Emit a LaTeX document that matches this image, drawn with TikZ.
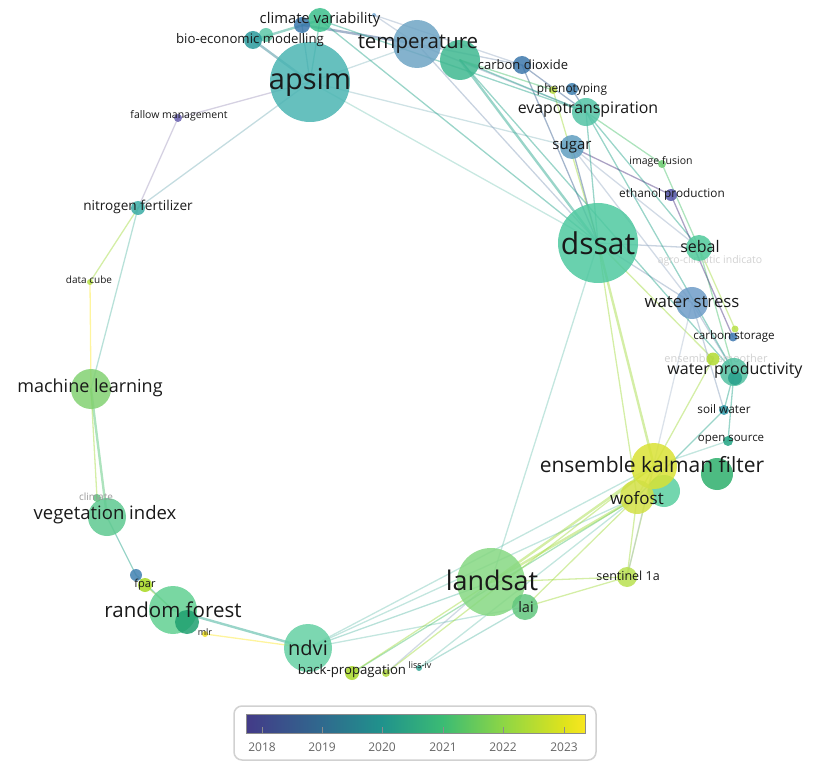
\documentclass[tikz,border=0pt]{standalone}
\usepackage{fontspec}
\setmainfont{Open Sans}
\definecolor{vA}{HTML}{46327E}
\definecolor{vB}{HTML}{365C8D}
\definecolor{vC}{HTML}{277F8E}
\definecolor{vD}{HTML}{1FA187}
\definecolor{vE}{HTML}{4AC16D}
\definecolor{vF}{HTML}{A0DA39}
\definecolor{vG}{HTML}{FDE725}
\definecolor{s0}{HTML}{433A88}
\definecolor{s1}{HTML}{30698E}
\definecolor{s2}{HTML}{20928C}
\definecolor{s3}{HTML}{3BBB74}
\definecolor{s4}{HTML}{8ED645}
\definecolor{s5}{HTML}{E0E31C}
\definecolor{s6}{HTML}{F8E620}
\pgfdeclarehorizontalshading{viridis}{100bp}{color(0bp)=(s0); color(25bp)=(s0); color(36bp)=(s1); color(45bp)=(s2); color(54bp)=(s3); color(63bp)=(s4); color(72bp)=(s5); color(75bp)=(s6); color(100bp)=(s6)}
\tikzset{
  ed/.style={line width=1.3pt, draw opacity=0.45, line cap=round},
  edt/.style={line width=2.4pt, draw opacity=0.45, line cap=round},
  bub/.style={circle, inner sep=0pt, fill opacity=0.85, draw=none},
  lab/.style={font=\fontsize{#1}{#1}\selectfont, text=black!90, inner sep=0pt},
  flab/.style={font=\fontsize{#1}{#1}\selectfont, text=black!18, inner sep=0pt},
}
\begin{document}
\begin{tikzpicture}[x=1pt,y=-1pt]
\useasboundingbox (0,0) rectangle (827,767);
% coordinates
\coordinate (apsim) at (310,82);
\coordinate (temp) at (417,44);
\coordinate (gtemp) at (460,60);
\coordinate (climvar) at (320,20);
\coordinate (climvarb) at (302,25);
\coordinate (bioecon) at (253,40);
\coordinate (bioeconb) at (266,35);
\coordinate (topdot) at (374,15);
\coordinate (co2) at (522,65);
\coordinate (pheno) at (572,89);
\coordinate (phenoy) at (553,90);
\coordinate (evap) at (586,112);
\coordinate (sugar) at (572,147);
\coordinate (imfus) at (662,164);
\coordinate (ethanol) at (671,195);
\coordinate (dssat) at (598,243);
\coordinate (sebal) at (699,248);
\coordinate (agro) at (712,261);
\coordinate (wstress) at (692,303);
\coordinate (cstor) at (733,337);
\coordinate (cstory) at (735,329);
\coordinate (ensm) at (713,359);
\coordinate (wprod) at (734,372);
\coordinate (soilw) at (724,410);
\coordinate (opens) at (728,441);
\coordinate (ekf) at (654,466);
\coordinate (dgreen) at (717,474);
\coordinate (tealw) at (664,491);
\coordinate (wofost) at (637,497);
\coordinate (sent) at (627,577);
\coordinate (landsat) at (491,582);
\coordinate (lai) at (525,607);
\coordinate (ndvi) at (308,648);
\coordinate (bprop) at (352,673);
\coordinate (bprop2) at (386,673);
\coordinate (liss) at (419,668);
\coordinate (rf) at (173,610);
\coordinate (rfin) at (187,622);
\coordinate (mlr) at (205,634);
\coordinate (fparb) at (136,575);
\coordinate (fpar) at (145,585);
\coordinate (vegi) at (107,517);
\coordinate (clim) at (97,498);
\coordinate (ml) at (91,389);
\coordinate (dcube) at (90,282);
\coordinate (nitro) at (138,208);
\coordinate (fallow) at (178,118);
% edges
\draw[ed, color=vC!60] (apsim) -- (nitro);
\draw[ed, color=vD!55] (apsim) -- (dssat);
\draw[ed, color=vC!50] (apsim) -- (temp);
\draw[ed, color=vC!50] (apsim) -- (sugar);
\draw[ed, color=vA!50] (apsim) -- (fallow);
\draw[edt, color=vC] (apsim) -- (bioecon);
\draw[ed, color=vD] (apsim) -- (climvar);
\draw[ed, color=vC] (apsim) -- (climvarb);
\draw[ed, color=vA!50] (fallow) -- (nitro);
\draw[ed, color=vF] (dcube) -- (nitro);
\draw[ed, color=vD!70] (nitro) -- (ml);
\draw[ed, color=vG] (dcube) -- (ml);
\draw[edt, color=vE] (ml) -- (vegi);
\draw[ed, color=vF] (ml) -- (clim);
\draw[ed, color=vD] (vegi) -- (fparb);
\draw[ed, color=vD] (fparb) -- (rf);
\draw[ed, color=vF] (fpar) -- (rf);
\draw[edt, color=vD] (rf) -- (ndvi);
\draw[ed, color=vG] (mlr) -- (ndvi);
\draw[ed, color=vD!70] (ndvi) -- (landsat);
\draw[ed, color=vD!60] (ndvi) -- (wofost);
\draw[ed, color=vD!60] (ndvi) -- (ekf);
\draw[ed, color=vD!60] (ndvi) -- (lai);
\draw[ed, color=vE] (bprop) -- (wofost);
\draw[ed, color=vF] (bprop) -- (landsat);
\draw[ed, color=vB!50] (bprop2) -- (landsat);
\draw[ed, color=vF] (bprop2) -- (ekf);
\draw[ed, color=vD!70] (liss) -- (lai);
\draw[ed, color=vD!60] (liss) -- (wofost);
\draw[ed, color=vD!60] (landsat) -- (dssat);
\draw[edt, color=vF] (landsat) -- (wofost);
\draw[edt, color=vF] (landsat) -- (ekf);
\draw[ed, color=vF] (lai) -- (wofost);
\draw[ed, color=vF] (lai) -- (sent);
\draw[ed, color=vF] (landsat) -- (sent);
\draw[ed, color=vF] (wofost) -- (sent);
\draw[ed, color=vF] (ekf) -- (sent);
\draw[edt, color=vF] (dssat) -- (ekf);
\draw[ed, color=vF] (dssat) -- (wofost);
\draw[ed, color=vB!60] (dssat) -- (wstress);
\draw[ed, color=vB!60] (dssat) -- (sebal);
\draw[ed, color=vF] (dssat) -- (ensm);
\draw[ed, color=vF] (ensm) -- (wofost);
\draw[ed, color=vD] (soilw) -- (wofost);
\draw[ed, color=vD] (soilw) -- (wprod);
\draw[ed, color=vB!60] (wstress) -- (soilw);
\draw[ed, color=vB!40] (wstress) -- (sent);
\draw[ed, color=vB!60] (wstress) -- (wprod);
\draw[ed, color=vD] (opens) -- (wprod);
\draw[ed, color=vD!60] (opens) -- (ekf);
\draw[ed, color=vE] (sebal) -- (wprod);
\draw[ed, color=vF] (sebal) -- (cstory);
\draw[ed, color=vE] (sebal) -- (imfus);
\draw[ed, color=vE] (evap) -- (imfus);
\draw[ed, color=vD] (evap) -- (sebal);
\draw[ed, color=vD] (evap) -- (wprod);
\draw[ed, color=vA] (sugar) -- (ethanol);
\draw[ed, color=vA] (ethanol) -- (cstor);
\draw[ed, color=vB!50] (sugar) -- (wstress);
\draw[ed, color=vB!50] (sugar) -- (sebal);
\draw[ed, color=vB] (co2) -- (dssat);
\draw[ed, color=vB!60] (co2) -- (temp);
\draw[ed, color=vB] (co2) -- (evap);
\draw[ed, color=vF] (phenoy) -- (dssat);
\draw[ed, color=vB] (pheno) -- (evap);
\draw[ed, color=vD] (evap) -- (dssat);
\draw[ed, color=vB] (sugar) -- (dssat);
\draw[ed, color=vB!60] (temp) -- (dssat);
\draw[ed, color=vB!60] (temp) -- (evap);
\draw[edt, color=vD] (gtemp) -- (dssat);
\draw[ed, color=vD] (gtemp) -- (evap);
\draw[ed, color=vD] (gtemp) -- (wprod);
\draw[ed, color=vE] (gtemp) -- (phenoy);
\draw[edt, color=vB] (climvarb) -- (temp);
\draw[ed, color=vD] (climvar) -- (dssat);
\draw[ed, color=vD] (climvar) -- (evap);
\draw[edt, color=vD] (bioecon) -- (climvar);
\draw[ed, color=vB!50] (topdot) -- (temp);
\draw[ed, color=vB!50] (topdot) -- (co2);
% faint labels, behind the bubbles
\node[flab=10.5] (lagro) at (710,261) {agro-climatic indicato};
\node[flab=11] (lensm) at (716,358) {ensemble smoother};
% bubbles
\node[bub, fill={rgb,255:red,75;green,181;blue,179}, minimum size=80pt] (napsim) at (apsim) {};
\node[bub, fill={rgb,255:red,111;green,165;blue,196}, minimum size=48pt] (ntemp) at (temp) {};
\node[bub, fill={rgb,255:red,63;green,184;blue,144}, minimum size=40pt] (ngtemp) at (gtemp) {};
\node[bub, fill={rgb,255:red,60;green,192;blue,140}, minimum size=24pt] (nclimvar) at (climvar) {};
\node[bub, fill={rgb,255:red,59;green,120;blue,173}, minimum size=16pt] (nclimvarb) at (climvarb) {};
\node[bub, fill={rgb,255:red,93;green,200;blue,168}, minimum size=14pt] (nbioeconb) at (bioeconb) {};
\node[bub, fill={rgb,255:red,42;green,154;blue,156}, minimum size=18pt] (nbioecon) at (bioecon) {};
\node[bub, fill={rgb,255:red,127;green,176;blue,216}, minimum size=4pt] (ntopdot) at (topdot) {};
\node[bub, fill={rgb,255:red,61;green,120;blue,172}, minimum size=18pt] (nco2) at (co2) {};
\node[bub, fill={rgb,255:red,184;green,216;blue,64}, minimum size=8pt] (nphenoy) at (phenoy) {};
\node[bub, fill={rgb,255:red,64;green,128;blue,176}, minimum size=12pt] (npheno) at (pheno) {};
\node[bub, fill={rgb,255:red,82;green,195;blue,165}, minimum size=28pt] (nevap) at (evap) {};
\node[bub, fill={rgb,255:red,95;green,158;blue,192}, minimum size=24pt] (nsugar) at (sugar) {};
\node[bub, fill={rgb,255:red,108;green,203;blue,112}, minimum size=8pt] (nimfus) at (imfus) {};
\node[bub, fill={rgb,255:red,84;green,85;blue,168}, minimum size=12pt] (nethanol) at (ethanol) {};
\node[bub, fill={rgb,255:red,79;green,201;blue,160}, minimum size=80pt] (ndssat) at (dssat) {};
\node[bub, fill={rgb,255:red,79;green,201;blue,154}, minimum size=26pt] (nsebal) at (sebal) {};
\node[bub, fill={rgb,255:red,110;green,156;blue,200}, minimum size=32pt] (nwstress) at (wstress) {};
\node[bub, fill={rgb,255:red,184;green,224;blue,72}, minimum size=7pt] (ncstory) at (cstory) {};
\node[bub, fill={rgb,255:red,62;green,120;blue,176}, minimum size=9pt] (ncstor) at (cstor) {};
\node[bub, fill={rgb,255:red,176;green,218;blue,48}, minimum size=13pt] (nensm) at (ensm) {};
\node[bub, fill={rgb,255:red,82;green,192;blue,160}, minimum size=28pt] (nwprod) at (wprod) {};
\node[bub, fill={rgb,255:red,40;green,160;blue,140}, minimum size=14pt] (nwprodin) at (735,378) {};
\node[bub, fill={rgb,255:red,46;green,152;blue,168}, minimum size=10pt] (nsoilw) at (soilw) {};
\node[bub, fill={rgb,255:red,34;green,164;blue,132}, minimum size=10pt] (nopens) at (opens) {};
\node[bub, fill={rgb,255:red,46;green,175;blue,108}, minimum size=32pt] (ndgreen) at (dgreen) {};
\node[bub, fill={rgb,255:red,91;green,207;blue,160}, minimum size=32pt] (ntealw) at (tealw) {};
\node[bub, fill={rgb,255:red,217;green,226;blue,53}, minimum size=46pt] (nekf) at (ekf) {};
\node[bub, fill={rgb,255:red,210;green,224;blue,69}, minimum size=34pt] (nwofost) at (wofost) {};
\node[bub, fill={rgb,255:red,185;green,224;blue,80}, minimum size=20pt] (nsent) at (sent) {};
\node[bub, fill={rgb,255:red,134;green,216;blue,130}, minimum size=68pt] (nlandsat) at (landsat) {};
\node[bub, fill={rgb,255:red,98;green,199;blue,126}, minimum size=26pt] (nlai) at (lai) {};
\node[bub, fill={rgb,255:red,101;green,208;blue,163}, minimum size=48pt] (nndvi) at (ndvi) {};
\node[bub, fill={rgb,255:red,169;green,216;blue,42}, minimum size=14pt] (nbprop) at (bprop) {};
\node[bub, fill={rgb,255:red,176;green,216;blue,64}, minimum size=8pt] (nbprop2) at (bprop2) {};
\node[bub, fill={rgb,255:red,58;green,168;blue,152}, minimum size=6pt] (nliss) at (liss) {};
\node[bub, fill={rgb,255:red,98;green,208;blue,146}, minimum size=48pt] (nrf) at (rf) {};
\node[bub, fill={rgb,255:red,31;green,160;blue,112}, minimum size=24pt] (nrfin) at (rfin) {};
\node[bub, fill={rgb,255:red,240;green,224;blue,32}, minimum size=6pt] (nmlr) at (mlr) {};
\node[bub, fill={rgb,255:red,64;green,128;blue,176}, minimum size=12pt] (nfparb) at (fparb) {};
\node[bub, fill={rgb,255:red,168;green,216;blue,32}, minimum size=14pt] (nfpar) at (fpar) {};
\node[bub, fill={rgb,255:red,94;green,201;blue,144}, minimum size=38pt] (nvegi) at (vegi) {};
\node[bub, fill={rgb,255:red,96;green,192;blue,128}, minimum size=8pt] (nclim) at (clim) {};
\node[bub, fill={rgb,255:red,130;green,209;blue,114}, minimum size=40pt] (nml) at (ml) {};
\node[bub, fill={rgb,255:red,184;green,224;blue,72}, minimum size=6pt] (ndcube) at (dcube) {};
\node[bub, fill={rgb,255:red,58;green,172;blue,165}, minimum size=14pt] (nnitro) at (nitro) {};
\node[bub, fill={rgb,255:red,104;green,96;blue,176}, minimum size=8pt] (nfallow) at (fallow) {};
% labels
\node[lab=29] (lapsim) at (310,82) {apsim};
\node[lab=30] (ldssat) at (598,243) {dssat};
\node[lab=27] (llandsat) at (492,580) {landsat};
\node[lab=20.5] (ltemp) at (418,44) {temperature};
\node[lab=14.8] (lclimvar) at (320,20) {climate variability};
\node[lab=13.2] (lbioecon) at (250,40) {bio-economic modelling};
\node[lab=13] (lco2) at (523,65) {carbon dioxide};
\node[lab=11.9] (lpheno) at (572,89) {phenotyping};
\node[lab=15.9] (levap) at (588,110) {evapotranspiration};
\node[lab=15] (lsugar) at (572,147) {sugar};
\node[lab=10.5] (limfus) at (661,162) {image fusion};
\node[lab=11.8] (lethanol) at (672,194) {ethanol production};
\node[lab=16] (lsebal) at (700,247) {sebal};
\node[lab=16.8] (lwstress) at (692,302) {water stress};
\node[lab=11.6] (lcstor) at (734,336) {carbon storage};
\node[lab=16] (lwprod) at (735,370) {water productivity};
\node[lab=11.8] (lsoilw) at (724,409) {soil water};
\node[lab=11.5] (lopens) at (731,440) {open source};
\node[lab=21] (lekf) at (652,465) {ensemble kalman filter};
\node[lab=17] (lwofost) at (637,498) {wofost};
\node[lab=12.5] (lsent) at (628,576) {sentinel 1a};
\node[lab=14.5] (llai) at (526,607) {lai};
\node[lab=20] (lndvi) at (308,648) {ndvi};
\node[lab=13.2] (lbprop) at (352,671) {back-propagation};
\node[lab=9] (lliss) at (420,665) {liss-iv};
\node[lab=20.5] (lrf) at (173,610) {random forest};
\node[lab=9] (lmlr) at (205,632) {mlr};
\node[lab=11] (lfpar) at (145,585) {fpar};
\node[lab=18.5] (lvegi) at (105,515) {vegetation index};
\node[flab=10, text=black!40] (lclim) at (96,497) {climate};
\node[lab=18] (lml) at (90,388) {machine learning};
\node[lab=10] (ldcube) at (89,280) {data cube};
\node[lab=13.6] (lnitro) at (138,207) {nitrogen fertilizer};
\node[lab=10.5] (lfallow) at (179,116) {fallow management};
% colour bar
\draw[black!18, line width=1.5pt, rounded corners=8pt, fill=white] (234,706) rectangle (596,760);
\shade[shading=viridis] (246,714) rectangle (585,733);
\draw[black!45, line width=0.8pt] (246,714) rectangle (585,733);
\foreach \x/\y in {262/2018, 322/2019, 382/2020, 443/2021, 503/2022, 564/2023} {
  \draw[black!45, line width=0.8pt] (\x,727) -- (\x,733);
  \node[lab=12, text=black!60] at (\x,747) {\y};
}
\end{tikzpicture}
\end{document}
